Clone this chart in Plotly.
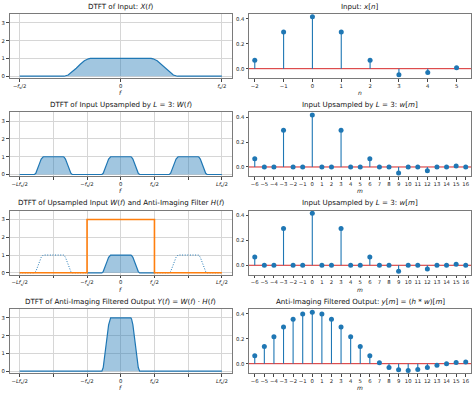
import plotly.graph_objects as go

# ---------------- data ----------------
# one spectral bump (offsets from its centre, in units of its period) and its height
bump_offsets = [-0.5, -0.28, -0.26, -0.24, -0.22, -0.20, -0.18, -0.16, -0.15,
                0.15, 0.16, 0.18, 0.20, 0.22, 0.24, 0.26, 0.28, 0.5]
bump_levels = [0.0, 0.0, 0.07, 0.24, 0.45, 0.67, 0.87, 0.98, 1.0,
               1.0, 0.98, 0.87, 0.67, 0.45, 0.24, 0.07, 0.0, 0.0]
image_centers = [-1, 0, 1]          # spectral copies after upsampling
filter_gain = 3                     # anti-imaging filter passband gain
filter_edges = [-0.5, 0.5]          # filter passband edges (fs/2 units)

n_input = [-2, -1, 0, 1, 2, 3, 4, 5]
x_input = [0.067, 0.296, 0.418, 0.296, 0.067, -0.048, -0.030, 0.008]

m_idx = list(range(-6, 17))
w_up = [0.067, 0, 0, 0.296, 0, 0, 0.418, 0, 0, 0.296, 0, 0, 0.067, 0, 0,
        -0.048, 0, 0, -0.030, 0, 0, 0.008, 0]
y_out = [0.064, 0.139, 0.217, 0.295, 0.357, 0.400, 0.414, 0.400, 0.357, 0.295,
         0.217, 0.139, 0.064, 0.008, -0.030, -0.048, -0.054, -0.046, -0.030,
         -0.013, 0.0, 0.010, 0.013]

tick_vals_1 = [-0.5, 0, 0.5]
tick_text_1 = ["−<i>f</i><sub>s</sub>/2", "0", "<i>f</i><sub>s</sub>/2"]
tick_vals_L = [-1.5, -1, -0.5, 0, 0.5, 1, 1.5]
tick_text_L = ["−<i>Lf</i><sub>s</sub>/2", " ", "−<i>f</i><sub>s</sub>/2", "0",
               "<i>f</i><sub>s</sub>/2", " ", "<i>Lf</i><sub>s</sub>/2"]

titles_left = [
    "DTFT of Input: <i>X</i>(<i>f</i>)",
    "DTFT of Input Upsampled by <i>L</i> = 3: <i>W</i>(<i>f</i>)",
    "DTFT of Upsampled Input <i>W</i>(<i>f</i>) and Anti-Imaging Filter <i>H</i>(<i>f</i>)",
    "DTFT of Anti-Imaging Filtered Output <i>Y</i>(<i>f</i>) = <i>W</i>(<i>f</i>) · <i>H</i>(<i>f</i>)",
]
titles_right = [
    "Input: <i>x</i>[<i>n</i>]",
    "Input Upsampled by <i>L</i> = 3: <i>w</i>[<i>m</i>]",
    "Input Upsampled by <i>L</i> = 3: <i>w</i>[<i>m</i>]",
    "Anti-Imaging Filtered Output: <i>y</i>[<i>m</i>] = (<i>h</i> * <i>w</i>)[<i>m</i>]",
]

# ---------------- layout geometry ----------------
W, H = 474, 394
C0 = "#1f77b4"
C1 = "#ff7f0e"
FILL = "rgba(31,119,180,0.42)"
FONT = "DejaVu Sans"
col_x = [(9.5, 232), (249, 471)]
row_tops = [14, 112.3, 210.6, 309]
plot_h = 64

fig = go.Figure()


def ax_id(r, c):
    return 2 * r + c + 1


def ref(prefix, k):
    return prefix if k == 1 else f"{prefix}{k}"


def add(trace, r, c):
    k = ax_id(r, c)
    trace.update(xaxis=ref("x", k), yaxis=ref("y", k))
    fig.add_trace(trace)


# periodic spectrum coordinates
per_x, per_y, per_c = [], [], []
for cen in image_centers:
    for o, v in zip(bump_offsets, bump_levels):
        per_x.append(cen + o)
        per_y.append(v)
        per_c.append(cen)

line_kw = dict(color=C0, width=1.2)

# Row 1 left: X(f)
add(go.Scatter(x=bump_offsets, y=bump_levels, mode="lines", line=line_kw,
               fill="tozeroy", fillcolor=FILL), 0, 0)
# Row 2 left: W(f)
add(go.Scatter(x=per_x, y=per_y, mode="lines", line=line_kw,
               fill="tozeroy", fillcolor=FILL), 1, 0)
# Row 3 left: W(f) images (dotted), central (filled), H(f)
for cen in image_centers:
    xs = [cen + o for o in bump_offsets]
    if cen == 0:
        add(go.Scatter(x=xs, y=bump_levels, mode="lines", line=line_kw,
                       fill="tozeroy", fillcolor=FILL), 2, 0)
    else:
        add(go.Scatter(x=xs, y=bump_levels, mode="lines",
                       line=dict(color=C0, width=1, dash="1px,1.6px")), 2, 0)
h_x = [-1.5, filter_edges[0], filter_edges[0], filter_edges[1], filter_edges[1], 1.5]
h_y = [0, 0, filter_gain, filter_gain, 0, 0]
add(go.Scatter(x=h_x, y=h_y, mode="lines", line=dict(color=C1, width=1.6)), 2, 0)
# Row 4 left: Y(f) = W(f) H(f)
y_spec = [filter_gain * v if filter_edges[0] <= xx <= filter_edges[1] and c == 0 else 0
          for xx, v, c in zip(per_x, per_y, per_c)]
add(go.Scatter(x=per_x, y=y_spec, mode="lines", line=line_kw,
               fill="tozeroy", fillcolor=FILL), 3, 0)


def stem(xs, ys, r):
    sx, sy = [], []
    for a, b in zip(xs, ys):
        sx += [a, a, None]
        sy += [0, b, None]
    add(go.Scatter(x=sx, y=sy, mode="lines", line=dict(color=C0, width=1.1)), r, 1)
    add(go.Scatter(x=xs, y=ys, mode="markers",
                   marker=dict(color=C0, size=5, line=dict(width=0))), r, 1)


stem(n_input, x_input, 0)
stem(m_idx, w_up, 1)
stem(m_idx, w_up, 2)
stem(m_idx, y_out, 3)

tickfont = dict(family=FONT, size=5.3, color="#222")
axis_common = dict(showline=True, linecolor="#7a7a7a", linewidth=1, mirror=True,
                   ticks="outside", ticklen=2.5, tickwidth=0.8, tickcolor="#444",
                   zeroline=False, tickfont=tickfont, automargin=False, tickangle=0)

annotations = []
for r in range(4):
    top = row_tops[r]
    bot = top + plot_h
    yd = [1 - bot / H, 1 - top / H]
    for c in range(2):
        k = ax_id(r, c)
        xd = [col_x[c][0] / W, col_x[c][1] / W]
        xa = dict(domain=xd, anchor=ref("y", k), **axis_common)
        ya = dict(domain=yd, anchor=ref("x", k), **axis_common)
        if c == 0:
            if r == 0:
                xa.update(range=[-0.55, 0.55], tickvals=tick_vals_1, ticktext=tick_text_1)
            else:
                xa.update(range=[-1.65, 1.65], tickvals=tick_vals_L, ticktext=tick_text_L)
            xa.update(showgrid=True, gridcolor="#d6d6d6", gridwidth=1)
            ya.update(range=[-0.1, 3.5], tickvals=[0, 1, 2, 3],
                      showgrid=True, gridcolor="#d6d6d6", gridwidth=1)
        else:
            if r == 0:
                xa.update(range=[-2.2, 5.5], tickvals=n_input)
            else:
                xa.update(range=[-6.6, 16.55], tickvals=m_idx)
            xa.update(showgrid=False)
            ya.update(range=[-0.075, 0.44], tickvals=[0, 0.2, 0.4],
                      ticktext=["0.0", "0.2", "0.4"], showgrid=False)
            fig.add_shape(type="line", xref=f"{ref('x', k)} domain", x0=0, x1=1,
                          yref=ref("y", k), y0=0, y1=0, layer="below",
                          line=dict(color="#d62728", width=1))
        fig.layout[ref("xaxis", k)] = xa
        fig.layout[ref("yaxis", k)] = ya
        title = titles_left[r] if c == 0 else titles_right[r]
        annotations.append(dict(text=title, xref="paper", yref="paper",
                                x=(xd[0] + xd[1]) / 2, y=1 - (top - 1.5) / H,
                                xanchor="center", yanchor="bottom", showarrow=False,
                                font=dict(family=FONT, size=7.1, color="#111")))
        lab = "<i>f</i>" if c == 0 else ("<i>n</i>" if r == 0 else "<i>m</i>")
        annotations.append(dict(text=lab, xref="paper", yref="paper",
                                x=(xd[0] + xd[1]) / 2, y=1 - (bot + 14.5) / H,
                                xanchor="center", yanchor="middle", showarrow=False,
                                font=dict(family=FONT, size=6, color="#222")))

fig.update_layout(width=W, height=H, autosize=False, showlegend=False,
                  margin=dict(l=0, r=0, t=0, b=0, pad=0), paper_bgcolor="white",
                  plot_bgcolor="white", annotations=annotations,
                  font=dict(family=FONT))

fig.write_html("out.html", config={"displayModeBar": False},
               post_script="document.body.style.margin='0px';"
                           "document.body.style.overflow='hidden';")
